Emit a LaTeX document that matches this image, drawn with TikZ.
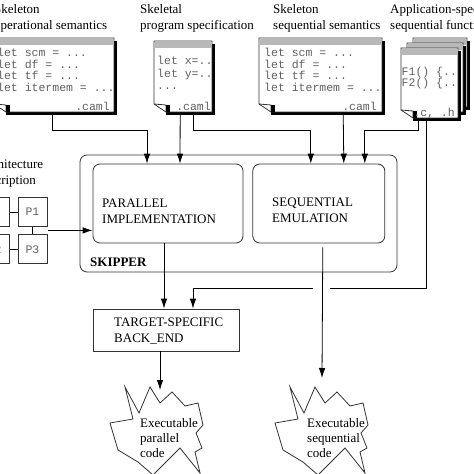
\documentclass[tikz,border=0pt]{standalone}
\usepackage{fontspec}
\setmainfont{Liberation Serif}
\setmonofont{Liberation Mono}
\usetikzlibrary{arrows.meta}
\usetikzlibrary{positioning}
\tikzset{>={Latex[length=10pt,width=6.5pt]}}
\definecolor{linegray}{gray}{0.2}
\definecolor{bargray}{gray}{0.72}
\definecolor{codegray}{gray}{0.38}

\tikzset{
  conn/.style={draw=black, line width=0.8pt},
  docline/.style={draw=linegray, line width=0.8pt},
  docbody/.style={fill=white, inner sep=0pt, anchor=north west},
  block/.style={draw=linegray, line width=0.8pt, rounded corners=7pt, inner sep=0pt},
  backend/.style={draw=linegray, line width=0.8pt, inner sep=0pt},
  proc/.style={draw=linegray, line width=0.8pt, minimum width=29pt, minimum height=29pt, inner sep=0pt, font=\fontsize{11.5}{12}\selectfont\ttfamily, text=codegray},
  lbl/.style={font=\fontsize{13}{16}\selectfont, align=left, inner sep=0pt, anchor=north west},
  code/.style={font=\fontsize{11.5}{11.7}\selectfont\ttfamily, text=codegray, align=left, inner sep=0pt, anchor=north west},
  burstline/.style={draw=linegray, line width=0.8pt, line join=miter}
}

% sheet with shadow, grey title bar and folded corner: name, left, top, right, bottom
\newcommand{\docsheet}[5]{%
  \fill[black] (#2+12,#3+3) rectangle (#4+3,#5+3);
  \node[docbody, minimum width={(#4)-(#2)}, minimum height={(#5)-(#3)}] (#1) at (#2,#3) {};
  \draw[docline] (#2,#3) -- (#4,#3) -- (#4,#5) -- (#2+12,#5) -- (#2,#5-8) -- cycle;
  \fill[bargray] (#2+1,#3+1) rectangle (#4-1,#3+7);
  \draw[docline] (#2,#5-8) -- (#2+12,#5-7) -- (#2+12,#5);
  \fill[black] (#2+12,#5-7) rectangle (#2+16,#5);
}

% jagged outline of a program: name, centre x, centre y
\newcommand{\burst}[3]{%
  \node[inner sep=0pt, minimum size=0pt] (#1) at (#2,#3) {};
  \draw[burstline, shift={(#2,#3)}] (-35,-50) -- (-21,-24) -- (-10,-50) -- (0,-34) -- (12,-45) -- (25,-31) -- (38,-34) -- (43,-12) -- (36,-4) -- (42,11) -- (35,15) -- (40,36) -- (20,11) -- (-7,38) -- (-22,25) -- (-42,13) -- (-50,-14) -- (-27,-18) -- cycle;
}

\begin{document}
\begin{tikzpicture}[x=1pt,y=-1pt]
\path[use as bounding box, clip] (0,0) rectangle (474,474);

% Input files
\node[lbl] (t1) at (-6,4) {Skeleton\\operational semantics};
\docsheet{f1}{-6}{38}{114}{112}
\node[code] (c1) at (-3,48) {let scm = ...\\let df = ...\\let tf = ...\\let itermem = ...};
\node[code, anchor=north east] (e1) at (110,101.5) {.caml};

\node[lbl] (t2) at (140,4) {Skeletal\\program specification};
\docsheet{f2}{154}{41}{212}{112}
\node[code, font=\fontsize{11.5}{12.5}\selectfont\ttfamily] (c2) at (157,56) {let x=..\\let y=..\\...};
\node[code, anchor=north east] (e2) at (211,101.5) {.caml};

\node[lbl] (t3) at (273,4) {Skeleton\\sequential semantics};
\docsheet{f3}{259}{38}{382}{112}
\node[code] (c3) at (264,48) {let scm = ...\\let df = ...\\let tf = ...\\let itermem = ...};
\node[code, anchor=north east] (e3) at (377,101.5) {.caml};

\node[lbl] (t4) at (390,4) {Application-specific\\sequential functions};
\docsheet{f4c}{413}{38}{467}{107}
\docsheet{f4b}{407}{43}{463}{112}
\docsheet{f4}{401}{48}{458}{118}
\node[code, font=\fontsize{11.5}{10}\selectfont\ttfamily] (c4) at (401.5,66.5) {F1() \{..\\F2() \{..};
\node[code, anchor=north east] (e4) at (455,107.5) {.c, .h};

% Architecture
\node[lbl] (t5) at (-22,159) {Architecture\\description};
\node[proc] (P1) at (32.5,212) {P1};
\node[proc, left=8pt of P1] (P0) {};
\node[proc, below=7.5pt of P1] (P3) {P3};
\node[proc, left=8pt of P3] (P2) {P2};
\draw[conn] (P0) -- (P1);
\draw[conn] (P1) -- (P3);
\draw[conn] (P2) -- (P3);

% Skipper
\node[block, minimum width=317pt, minimum height=117pt] (skipper) at (238.5,213.5) {};
\node[font=\fontsize{13}{16}\selectfont\bfseries, inner sep=0pt, anchor=north west] (sklbl) at (90,258) {SKIPPER};
\node[block, minimum width=150pt, minimum height=79pt] (par) at (168,203.5) {};
\node[block, minimum width=132pt, minimum height=79pt, right=9pt of par] (seq) {};
\node[lbl] (partxt) at (102,199) {PARALLEL\\IMPLEMENTATION};
\node[lbl] (seqtxt) at (272,198) {SEQUENTIAL\\EMULATION};
\node[backend, minimum width=146pt, minimum height=42pt] (back) at (166,330) {};
\node[lbl] (backtxt) at (114,318) {TARGET-SPECIFIC\\BACK\_END};

% Results
\burst{pexe}{160}{437}
\burst{sexe}{325}{437}
\node[lbl, font=\fontsize{13}{15}\selectfont] (ptxt) at (140,418) {Executable\\parallel\\code};
\node[lbl, font=\fontsize{13}{15}\selectfont] (stxt) at (307,418) {Executable\\sequential\\code};

% Flows
\draw[conn,->] ([xshift=-2pt]f1.south) -- ++(0,18) -| ([xshift=-21pt]par.north);
\draw[conn,->] ([xshift=-3pt]f2.south) -- ([xshift=12pt]par.north);
\draw[conn,->] ([xshift=10pt]f2.south) -- ++(0,18) -| ([xshift=-8pt]seq.north);
\draw[conn,->] ([xshift=22.5pt]f3.south) -- ([xshift=25pt]seq.north);
\draw[conn,->] ([xshift=-11.5pt]f4.south) -- ++(0,12) -| ([xshift=46pt]seq.north);
\draw[conn,->] ([xshift=-3.5pt]f4.south) -- ++(0,170) -| ([xshift=27pt]back.north);
\fill[white] (313,284) rectangle (330,292);
\draw[conn,->] ([xshift=4pt,yshift=-4pt]seq.south) -- ([xshift=-3pt,yshift=59pt]sexe.center);
\draw[conn,->] ([xshift=-4pt]par.south) -- ([xshift=-2pt]back.north);
\draw[conn,->] ([xshift=-6pt]back.south) -- ([yshift=47pt]pexe.center);
\draw[conn,->] ([xshift=1pt,yshift=-3.5pt]P1.south east) coordinate (archout) -- (archout -| par.west);

\end{tikzpicture}
\end{document}
